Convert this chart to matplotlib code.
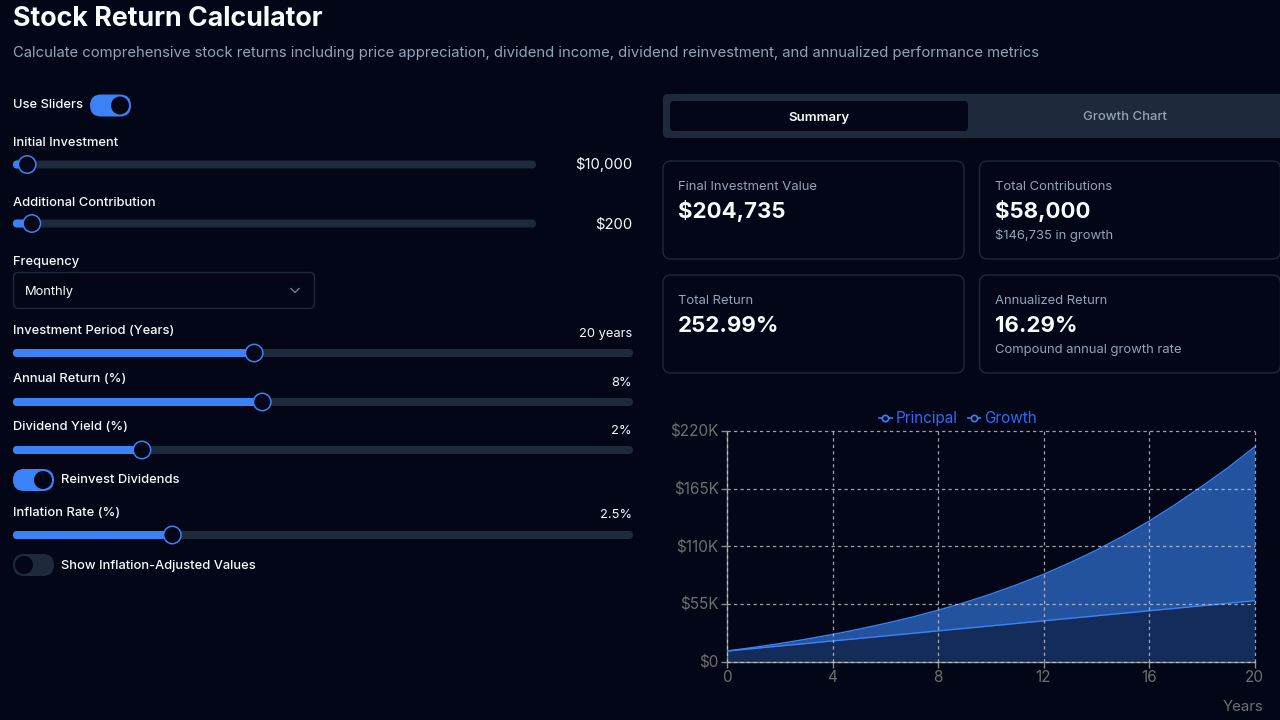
"""Stock return calculator page: controls on the left, summary cards and growth chart on the right."""
import matplotlib

matplotlib.use("Agg")
import matplotlib.pyplot as plt
from matplotlib.lines import Line2D
from matplotlib.patches import Circle, FancyBboxPatch
from matplotlib.ticker import FuncFormatter

plt.rcParams["font.family"] = ["Inter", "DejaVu Sans"]

BG = "#020617"
PANEL = "#1e293b"
BLUE = "#3b82f6"
MUTED = "#94a3b8"
WHITE = "#f8fafc"
AXIS_GREY = "#6f6f6f"
LABEL_SIZE = 9.3

# chart data (in dollars)
years = list(range(21))
principal = [10000, 12400, 14800, 17200, 19600, 22000, 24400, 26800, 29200, 31600, 34000,
             36400, 38800, 41200, 43600, 46000, 48400, 50800, 53200, 55600, 58000]
total_value = [10000, 13400, 17100, 21300, 25800, 30800, 36300, 42200, 48900, 56200, 64300,
               73300, 83200, 94200, 106200, 119400, 133800, 149800, 167000, 185000, 204735]
x_ticks = [0, 4, 8, 12, 16, 20]
y_ticks = [0, 55000, 110000, 165000, 220000]

slider_labels = ["Initial Investment", "Additional Contribution", "Investment Period (Years)",
                 "Annual Return (%)", "Dividend Yield (%)", "Inflation Rate (%)"]
slider_texts = ["$10,000", "$200", "20 years", "8%", "2%", "2.5%"]
slider_fractions = [0.027, 0.036, 0.389, 0.402, 0.208, 0.257]

card_labels = ["Final Investment Value", "Total Contributions", "Total Return", "Annualized Return"]
card_values = ["$204,735", "$58,000", "252.99%", "16.29%"]
card_notes = ["", "$146,735 in growth", "", "Compound annual growth rate"]

# pixel layout of the controls: track right edge, track y, label y, value y, value size
SLIDER_LAYOUT = [
    (536, 164.5, 143.5, 165, 10.7),
    (536, 223.5, 202.5, 225, 10.7),
    (633, 353, 330.5, 333.5, 9.3),
    (633, 402, 378.5, 382.5, 9.3),
    (633, 450, 426.5, 430.5, 9.3),
    (633, 535, 512.5, 515.5, 9.3),
]
CARD_LAYOUT = [(663, 161), (979.5, 161), (663, 275), (979.5, 275)]


def rounded(ax, x0, y0, x1, y1, radius, face, edge="none", lw=0, z=1):
    ax.add_patch(FancyBboxPatch((x0, y0), x1 - x0, y1 - y0,
                                boxstyle=f"round,pad=0,rounding_size={radius}",
                                facecolor=face, edgecolor=edge, linewidth=lw, zorder=z))


def toggle(ax, x0, yc, on=True):
    rounded(ax, x0, yc - 11, x0 + 41, yc + 11, 11, BLUE if on else PANEL)
    ax.add_patch(Circle((x0 + 30 if on else x0 + 11, yc), 9, facecolor=BG, edgecolor="none", zorder=2))


def draw_controls(ui):
    ui.text(13, 19.5, "Stock Return Calculator", fontsize=19.3, fontweight="bold", color=WHITE, va="center")
    ui.text(13, 53.5, "Calculate comprehensive stock returns including price appreciation, dividend income, "
                      "dividend reinvestment, and annualized performance metrics",
            fontsize=10.68, color=MUTED, va="center")

    ui.text(13, 105.5, "Use Sliders", fontsize=LABEL_SIZE, fontweight="medium", color=WHITE, va="center")
    toggle(ui, 90, 105.5)
    ui.text(61, 480, "Reinvest Dividends", fontsize=LABEL_SIZE, fontweight="medium", color=WHITE, va="center")
    toggle(ui, 13, 480)
    ui.text(61, 566, "Show Inflation-Adjusted Values", fontsize=LABEL_SIZE, fontweight="medium", color=WHITE, va="center")
    toggle(ui, 13, 565, on=False)

    for label, value, frac, (right, y, label_y, value_y, size) in zip(
            slider_labels, slider_texts, slider_fractions, SLIDER_LAYOUT):
        thumb = 13 + frac * (right - 13)
        ui.text(13, label_y, label, fontsize=LABEL_SIZE, fontweight="medium", color=WHITE, va="center")
        ui.text(632, value_y, value, fontsize=size, color=WHITE, va="center", ha="right")
        rounded(ui, 13, y - 4, right, y + 4, 4, PANEL)
        rounded(ui, 13, y - 4, thumb, y + 4, 4, BLUE, z=2)
        ui.add_patch(Circle((thumb, y), 8.7, facecolor=BG, edgecolor=BLUE, linewidth=1.1, zorder=3))

    ui.text(13, 262.5, "Frequency", fontsize=LABEL_SIZE, fontweight="medium", color=WHITE, va="center")
    rounded(ui, 13.5, 272.5, 314.5, 308.5, 5, BG, edge=PANEL, lw=1)
    ui.text(25, 292, "Monthly", fontsize=LABEL_SIZE, color=WHITE, va="center")
    ui.plot([291, 295, 299], [288.5, 292.5, 288.5], color="#7b8698", lw=0.9)


def draw_summary(ui):
    rounded(ui, 663, 94, 1295, 138, 5, PANEL)
    rounded(ui, 670, 101, 968, 131, 4, BG, z=2)
    ui.text(818.5, 117.5, "Summary", fontsize=9.5, fontweight="semibold", color=WHITE, ha="center", va="center", zorder=3)
    ui.text(1125, 117.5, "Growth Chart", fontsize=9.4, fontweight="medium", color=MUTED, ha="center", va="center", zorder=3)

    for label, value, note, (x, y) in zip(card_labels, card_values, card_notes, CARD_LAYOUT):
        rounded(ui, x, y, x + 301, y + 98, 8, BG, edge=PANEL, lw=1)
        ui.text(x + 15.5, y + 26, label, fontsize=9.4, color=MUTED, va="center")
        ui.text(x + 15, y + 50.5, value, fontsize=16, fontweight="bold", color=WHITE, va="center")
        if note:
            ui.text(x + 15.5, y + 74.5, note, fontsize=9.4, color=MUTED, va="center")


def draw_chart(ax):
    ax.set_facecolor(BG)
    ax.fill_between(years, total_value, color="#23539f", lw=0, zorder=1)
    ax.fill_between(years, principal, color="#132c5a", lw=0, zorder=1.5)
    ax.plot(years, total_value, color=BLUE, lw=1, zorder=2)
    ax.plot(years, principal, color=BLUE, lw=1, zorder=2)

    ax.set_xlim(0, 20)
    ax.set_ylim(0, 220000)
    ax.set_xticks(x_ticks)
    ax.set_yticks(y_ticks)
    ax.yaxis.set_major_formatter(FuncFormatter(lambda v, _: f"${v / 1000:.0f}K" if v else "$0"))
    ax.tick_params(colors=AXIS_GREY, labelsize=11, length=4, width=1, pad=2, color="#8a8a8a")
    ax.grid(True, color="#c8c8c8", lw=0.9, ls=(0, (2.6, 2.6)), alpha=0.8, zorder=3)
    ax.set_axisbelow(False)
    for side, spine in ax.spines.items():
        spine.set_color("#8a8a8a")
        spine.set_linewidth(1)
        if side in ("top", "right"):
            spine.set_visible(False)
    for line in ax.get_xgridlines() + ax.get_ygridlines():
        line.set_clip_on(False)

    ax.annotate("Years", xy=(1, 0), xycoords="axes fraction", xytext=(6.5, -33),
                textcoords="offset points", fontsize=10.8, color=AXIS_GREY, ha="right", va="center",
                annotation_clip=False)
    handles = [Line2D([], [], color=BLUE, lw=1.2, marker="o", ms=4.5, mfc=BG, mew=1.2) for _ in range(2)]
    ax.legend(handles, ["Principal", "Growth"], ncol=2, loc="lower center", bbox_to_anchor=(0.438, 1.02),
              frameon=False, fontsize=11, labelcolor="#2b6cf6", handlelength=0.8, handletextpad=0.25,
              columnspacing=0.7, borderpad=0, borderaxespad=0)


def main():
    fig = plt.figure(figsize=(12.8, 7.2), dpi=100, facecolor=BG)
    ui = fig.add_axes([0, 0, 1, 1])
    ui.set_xlim(0, 1280)
    ui.set_ylim(720, 0)
    ui.axis("off")
    draw_controls(ui)
    draw_summary(ui)

    ax = fig.add_axes([727 / 1280, (720 - 661.5) / 720, 527.5 / 1280, 230.5 / 720])
    draw_chart(ax)
    fig.savefig("out.png", dpi=100, facecolor=BG)
    plt.close(fig)


if __name__ == "__main__":
    main()
